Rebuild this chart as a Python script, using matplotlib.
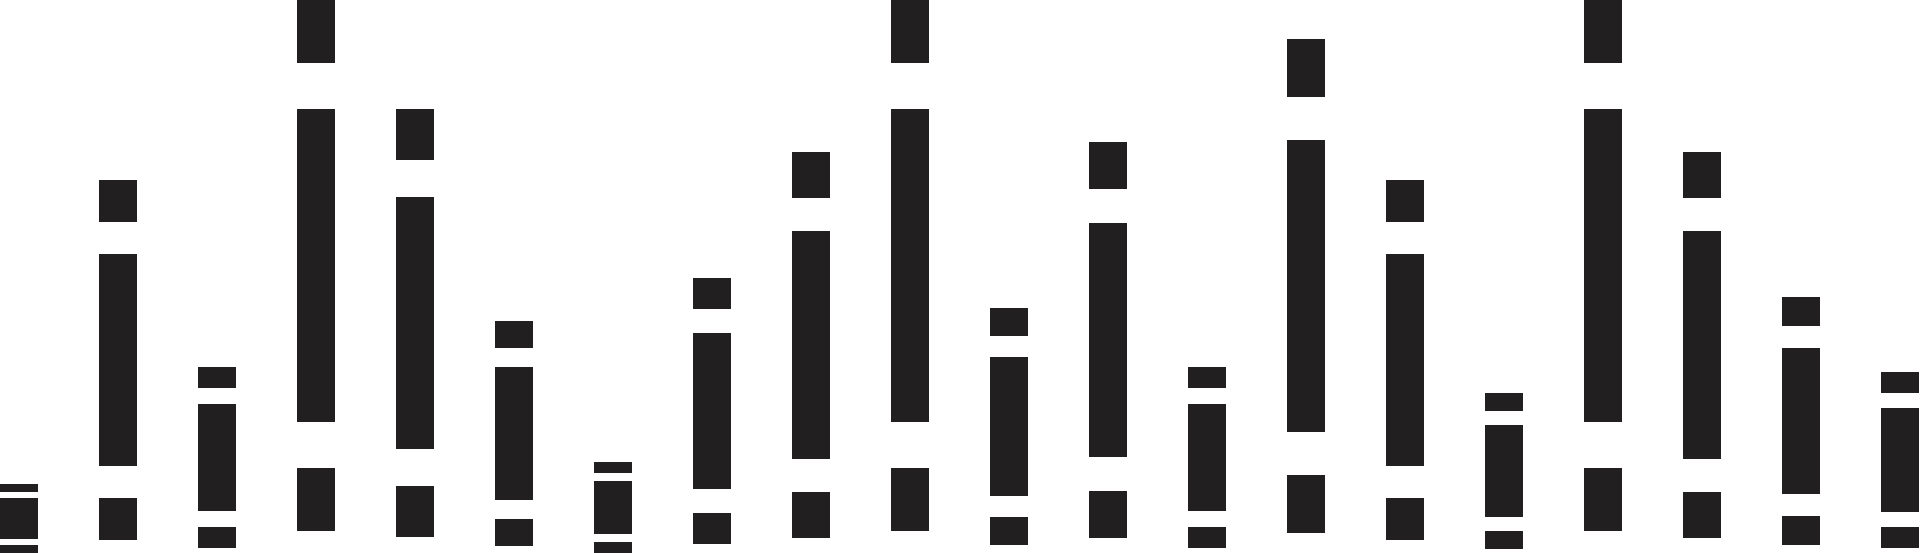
import numpy as np
import matplotlib
matplotlib.use('Agg')
import matplotlib.pyplot as plt

# One column per bar group: total stack height and lift above the baseline
columns = list(range(20))
stack_height = [69, 360, 181, 531, 428, 225, 91, 266, 386, 531,
                237, 396, 181, 494, 360, 156, 531, 386, 248, 176]
stack_base = [0, 13, 5, 22, 16, 7, 0, 9, 15, 22,
              8, 15, 5, 20, 13, 4, 22, 15, 8, 5]

# Share of the stack taken by each piece: cap, gap, middle, gap, cap
cap_share = 0.118
gap_share = 0.087
mid_share = 1 - 2 * cap_share - 2 * gap_share

color = '#211f20'
bar_w = 38 / 99

fig = plt.figure(figsize=(19.2, 5.53), dpi=100)
ax = fig.add_axes([0, 0, 1, 1])

h = np.array(stack_height, dtype=float)
base = np.array(stack_base, dtype=float)
cap = h * cap_share
gap = h * gap_share
mid = h * mid_share

# Bottom cap, middle bar, top cap
ax.bar(columns, cap, bottom=base, width=bar_w, color=color, linewidth=0)
ax.bar(columns, mid, bottom=base + cap + gap, width=bar_w, color=color, linewidth=0)
ax.bar(columns, cap, bottom=base + cap + gap + mid + gap, width=bar_w, color=color, linewidth=0)

ax.set_xlim(-19 / 99, (1920 - 19) / 99)
ax.set_ylim(0, 553)
ax.axis('off')

fig.savefig('out.png', dpi=100, facecolor='white')
